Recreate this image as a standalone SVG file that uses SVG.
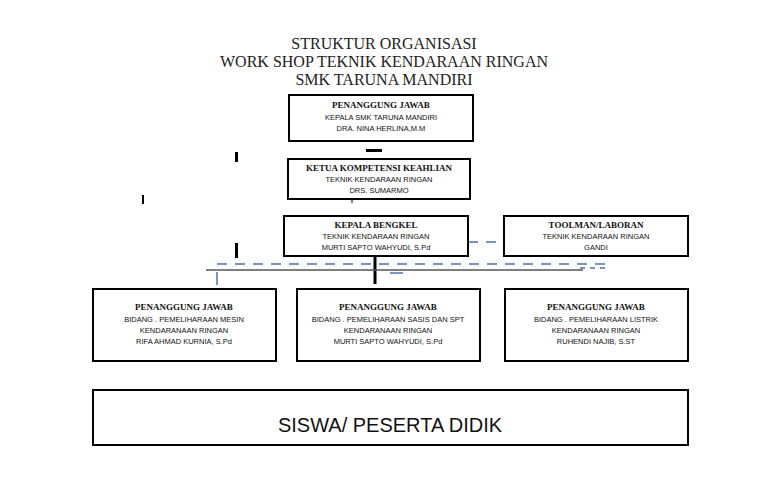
<svg xmlns="http://www.w3.org/2000/svg" width="768" height="501" viewBox="0 0 768 501">
<style>
.t{font-family:"Liberation Serif",serif;font-size:16px;fill:#222;text-anchor:middle}
.h{font-family:"Liberation Serif",serif;font-size:9px;font-weight:bold;fill:#111;text-anchor:middle}
.s{font-family:"Liberation Sans",sans-serif;font-size:7.5px;fill:#111;text-anchor:middle}
.b{fill:#fff;stroke:#000;stroke-width:2}
.d{stroke:#4a72b8;stroke-width:1.5;stroke-dasharray:10 8;fill:none}
</style>
<rect width="768" height="501" fill="#fff"/>
<text class="t" x="384" y="49">STRUKTUR ORGANISASI</text>
<text class="t" x="384" y="67">WORK SHOP TEKNIK KENDARAAN RINGAN</text>
<text class="t" x="384" y="85">SMK TARUNA MANDIRI</text>
<g id="connectors">
<rect x="366" y="149" width="16" height="3" fill="#000"/>
<rect x="235" y="152" width="3" height="10" fill="#000"/>
<rect x="142" y="195" width="2" height="9" fill="#000"/>
<rect x="235" y="243" width="3" height="15" fill="#000"/>
<line x1="352" y1="196" x2="352" y2="203" stroke="#000"/>
<line x1="375" y1="256" x2="375" y2="284" stroke="#000" stroke-width="3"/>
<line x1="206" y1="270" x2="583" y2="270" stroke="#555" stroke-width="1.5"/>
<line class="d" x1="217" y1="264" x2="605" y2="264"/>
<line class="d" x1="468" y1="242" x2="504" y2="242"/>
<line x1="217" y1="272" x2="217" y2="285" stroke="#4a72b8" stroke-width="1.5"/>
<line x1="390" y1="273" x2="403" y2="273" stroke="#4a72b8" stroke-width="1.5"/>
<line x1="580" y1="268" x2="610" y2="268" stroke="#4a72b8" stroke-width="1.5" stroke-dasharray="5 5"/>
</g>
<g id="n1"><rect class="b" x="289" y="95" width="184" height="46"/>
<text class="h" x="381" y="108">PENANGGUNG JAWAB</text><text class="s" x="381" y="120">KEPALA SMK TARUNA MANDIRI</text><text class="s" x="381" y="131">DRA. NINA HERLINA,M.M</text></g>
<g id="n2"><rect class="b" x="288" y="159" width="182" height="40"/>
<text class="h" x="379" y="171">KETUA KOMPETENSI KEAHLIAN</text><text class="s" x="379" y="182">TEKNIK KENDARAAN RINGAN</text><text class="s" x="379" y="193">DRS. SUMARMO</text></g>
<g id="n3"><rect class="b" x="284" y="216" width="184" height="40"/>
<text class="h" x="376" y="228">KEPALA BENGKEL</text><text class="s" x="376" y="239">TEKNIK KENDARAAN RINGAN</text><text class="s" x="376" y="250">MURTI SAPTO WAHYUDI, S.Pd</text></g>
<g id="n4"><rect class="b" x="504" y="216" width="184" height="40"/>
<text class="h" x="596" y="228">TOOLMAN/LABORAN</text><text class="s" x="596" y="239">TEKNIK KENDARAAN RINGAN</text><text class="s" x="596" y="250">GANDI</text></g>
<g id="n5"><rect class="b" x="93" y="289" width="183" height="72"/>
<text class="h" x="184" y="310">PENANGGUNG JAWAB</text><text class="s" x="184" y="322">BIDANG . PEMELIHARAAN MESIN</text><text class="s" x="184" y="333">KENDARANAAN RINGAN</text><text class="s" x="184" y="344">RIFA AHMAD KURNIA, S.Pd</text></g>
<g id="n6"><rect class="b" x="297" y="289" width="183" height="72"/>
<text class="h" x="388" y="310">PENANGGUNG JAWAB</text><text class="s" x="388" y="322">BIDANG . PEMELIHARAAN SASIS DAN SPT</text><text class="s" x="388" y="333">KENDARANAAN RINGAN</text><text class="s" x="388" y="344">MURTI SAPTO WAHYUDI, S.Pd</text></g>
<g id="n7"><rect class="b" x="505" y="289" width="183" height="72"/>
<text class="h" x="596" y="310">PENANGGUNG JAWAB</text><text class="s" x="596" y="322">BIDANG . PEMELIHARAAN LISTRIK</text><text class="s" x="596" y="333">KENDARANAAN RINGAN</text><text class="s" x="596" y="344">RUHENDI NAJIB, S.ST</text></g>
<g id="n8"><rect class="b" x="93" y="390" width="595" height="55"/>
<text x="390" y="432" font-family="Liberation Sans,sans-serif" font-size="20" text-anchor="middle" fill="#111">SISWA/ PESERTA DIDIK</text></g>
</svg>
